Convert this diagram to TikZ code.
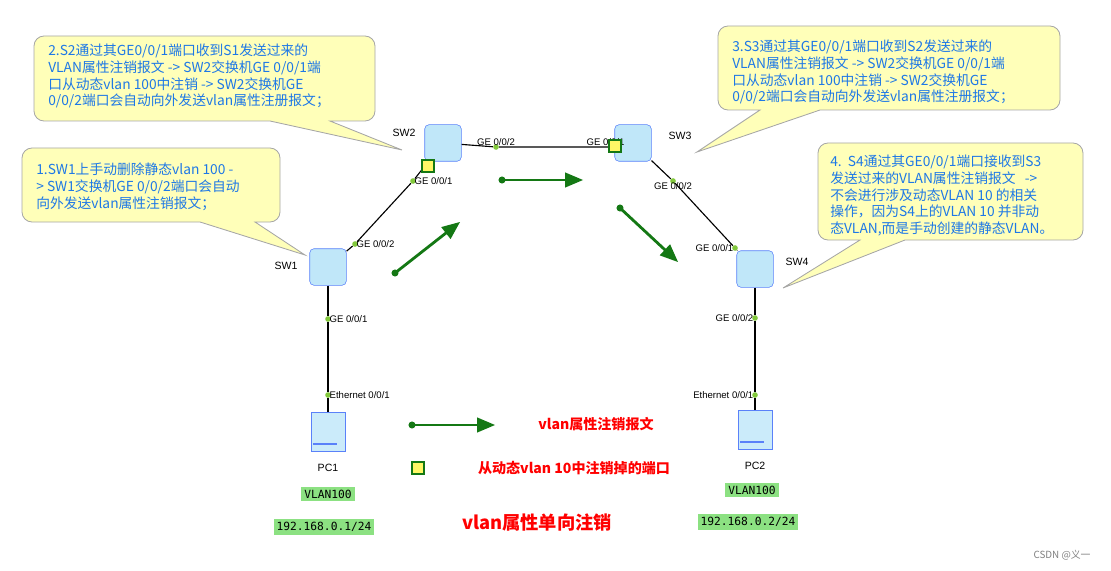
\documentclass[tikz,border=0pt]{standalone}
\usepackage{fontspec}
\setmainfont{Liberation Sans}
\setmonofont{DejaVu Sans Mono}
\newfontfamily\cjk{Noto Sans CJK SC}
\usetikzlibrary{shapes,arrows,positioning,calc}
\definecolor{tipyellow}{RGB}{255,255,185}
\definecolor{tipblue}{RGB}{30,120,230}
\definecolor{linkgreen}{RGB}{20,120,20}
\definecolor{portgreen}{RGB}{130,200,60}
\definecolor{tagbg}{RGB}{140,225,130}
\definecolor{devblue}{RGB}{150,215,245}
\begin{document}
\begin{tikzpicture}[x=0.025cm,y=-0.025cm,
    callout/.style={draw=gray!70, fill=tipyellow, line width=0.6pt},
    tip text/.style={font=\cjk\fontsize{9.8}{11.8}\selectfont, text=tipblue, align=left, anchor=north west, inner sep=0pt},
    port/.style={circle, fill=portgreen, inner sep=0pt, minimum size=4pt},
    port label/.style={font=\fontsize{6.8}{8}\selectfont, inner sep=1pt},
    dev label/.style={font=\fontsize{7.5}{9}\selectfont},
    link/.style={line width=0.8pt},
    flow/.style={-triangle 45, line width=2pt, draw=linkgreen},
    freed/.style={draw=linkgreen, fill=yellow!60, line width=1.5pt, minimum size=8pt, inner sep=0pt},
    tag/.style={fill=tagbg, font=\ttfamily\fontsize{8}{9.5}\selectfont, inner sep=2pt},
    legend/.style={font=\cjk\bfseries\fontsize{10}{12}\selectfont, text=red},
    switch/.style={draw=devblue!60!blue, fill=devblue!60, rounded corners=3pt, minimum width=26pt, minimum height=26pt},
    pc/.style={draw=devblue!60!blue, fill=devblue!50, minimum width=24pt, minimum height=28pt}
]
\useasboundingbox (0,0) rectangle (1111,571);

% callouts
\draw[callout] (60,121) -- (270,121) -- (402,150) -- (330,121) -- (365,121)
  arc (90:0:10) -- (375,46) arc (0:-90:10) -- (44,36) arc (270:180:10) -- (34,111) arc (180:90:10) -- cycle;
\node[tip text] at (48,44) {2.S2通过其GE0/0/1端口收到S1发送过来的\\VLAN属性注销报文 -> SW2交换机GE 0/0/1端\\口从动态vlan 100中注销 -> SW2交换机GE\\0/0/2端口会自动向外发送vlan属性注册报文；};

\draw[callout] (32,222) -- (200,222) -- (305,255) -- (255,222) -- (270,222)
  arc (90:0:10) -- (280,158) arc (0:-90:10) -- (32,148) arc (270:180:10) -- (22,212) arc (180:90:10) -- cycle;
\node[tip text] at (36,163) {1.SW1上手动删除静态vlan 100 -\\> SW1交换机GE 0/0/2端口会自动\\向外发送vlan属性注销报文；};

\draw[callout] (728,110) -- (760,110) -- (697,152) -- (820,110) -- (1050,110)
  arc (90:0:10) -- (1060,36) arc (0:-90:10) -- (728,26) arc (270:180:10) -- (718,100) arc (180:90:10) -- cycle;
\node[tip text] at (732,40) {3.S3通过其GE0/0/1端口收到S2发送过来的\\VLAN属性注销报文 -> SW2交换机GE 0/0/1端\\口从动态vlan 100中注销 -> SW2交换机GE\\0/0/2端口会自动向外发送vlan属性注册报文；};

\draw[callout] (828,240) -- (860,240) -- (783,288) -- (905,240) -- (1073,240)
  arc (90:0:10) -- (1083,153) arc (0:-90:10) -- (828,143) arc (270:180:10) -- (818,230) arc (180:90:10) -- cycle;
\node[tip text] at (830,155) {4.\ \ S4通过其GE0/0/1端口接收到S3\\发送过来的VLAN属性注销报文\ \ \ ->\\不会进行涉及动态VLAN 10 的相关\\操作，因为S4上的VLAN 10 并非动\\态VLAN,而是手动创建的静态VLAN。};

% devices
\node[switch] (sw2) at (443,143) {};
\node[switch] (sw3) at (633,143) {};
\node[switch] (sw1) at (328,267) {};
\node[switch] (sw4) at (755,269) {};
\node[pc] (pc1) at (328,432) {};
\node[pc] (pc2) at (755,430) {};
\draw[devblue!60!blue, line width=1.5pt] (pc1.south west) ++(2,-8) -- ++(24,0);
\draw[devblue!60!blue, line width=1.5pt] (pc2.south west) ++(2,-8) -- ++(24,0);

\node[dev label] at (404,133) {SW2};
\node[dev label] at (680,136) {SW3};
\node[dev label] at (286,266) {SW1};
\node[dev label] at (797,262) {SW4};
\node[dev label, below=5pt of pc1] {PC1};
\node[dev label, below=5pt of pc2] {PC2};

% ports
\node[port] (p12) at (355,244) {};
\node[port] (p21) at (413,181) {};
\node[port] (p22) at (496,147) {};
\node[port] (p31) at (612,147) {};
\node[port] (p32) at (673,181) {};
\node[port] (p41) at (735,248) {};
\node[port] (p11) at (328,319) {};
\node[port] (pe1) at (328,395) {};
\node[port] (p42) at (755,318) {};
\node[port] (pe2) at (755,395) {};

\node[port label, right] at (p12) {GE 0/0/2};
\node[port label, right] at (p21) {GE 0/0/1};
\node[port label, above] at (p22) {GE 0/0/2};
\node[port label, above left=0pt and -10pt] at (p31) {GE 0/0/1};
\node[port label, below] at (p32) {GE 0/0/2};
\node[port label, left] at (p41) {GE 0/0/1};
\node[port label, right] at (p11) {GE 0/0/1};
\node[port label, right] at (pe1) {Ethernet 0/0/1};
\node[port label, left] at (p42) {GE 0/0/2};
\node[port label, left] at (pe2) {Ethernet 0/0/1};

% links
\draw[link] (sw1) -- (p12) -- (p21) -- (sw2);
\draw[link] (sw2) -- (p22) -- (p31) -- (sw3);
\draw[link] (sw3) -- (p32) -- (p41) -- (sw4);
\draw[link] (sw1) -- (p11) -- (pe1) -- (pc1);
\draw[link] (sw4) -- (p42) -- (pe2) -- (pc2);

% deregistered ports
\node[freed] (x2) at (428,166) {};
\node[freed] (x3) at (615,146) {};

% flow arrows
\coordinate (a1) at (395,273); \coordinate (b1) at (460,222);
\coordinate (a2) at (502,180); \coordinate (b2) at (583,180);
\coordinate (a3) at (620,208); \coordinate (b3) at (678,262);
\coordinate (a4) at (412,425); \coordinate (b4) at (495,425);
\foreach \s/\e in {a1/b1,a2/b2,a3/b3,a4/b4} {
    \fill[linkgreen] (\s) circle (2.5pt);
    \draw[flow] (\s) -- (\e);
}

% legend
\node[legend] (lg1) at (596,424) {vlan属性注销报文};
\node[freed] (lgsq) at (418,468) {};
\node[legend] (lg2) at (574,468) {从动态vlan 10中注销掉的端口};
\node[font=\cjk\bfseries\fontsize{13}{15}\selectfont, text=red] (title) at (537,523) {vlan属性单向注销};

% tags
\node[tag] (v1) at (328,494) {VLAN100};
\node[tag] (ip1) at (324,527) {192.168.0.1/24};
\node[tag] (v2) at (752,490) {VLAN100};
\node[tag] (ip2) at (748,522) {192.168.0.2/24};
\node[font=\cjk\fontsize{7}{8}\selectfont, text=gray] (mark) at (1062,555) {CSDN @义一};
\end{tikzpicture}
\end{document}
